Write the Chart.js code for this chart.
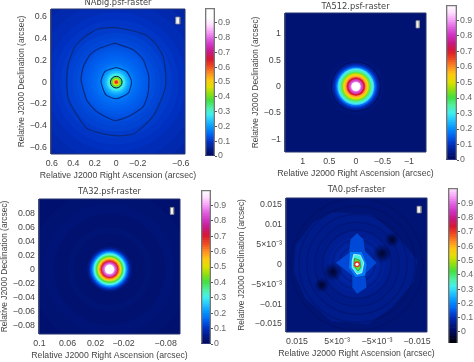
<!DOCTYPE html>
<html><head><meta charset="utf-8">
<style>
html,body{margin:0;padding:0;background:#fff;width:474px;height:362px;overflow:hidden;position:relative}
canvas{position:absolute;filter:blur(.4px)}
</style>
<script src="https://cdn.jsdelivr.net/npm/chart.js@4"></script>
</head><body>
<script>
const cmapPos=[-0.08,0,0.05,0.1,0.15,0.2,0.25,0.3,0.35,0.4,0.45,0.5,0.55,0.6,0.65,0.7,0.75,0.8,0.85,0.9,0.95,1];
const cmapHex=['#000000','#000a5c','#001a88','#0030c0','#0060f0','#0090ff','#20c0ff','#40f0f0','#50f0a0','#40e040','#90e010','#e0e000','#ffc810','#ff8c20','#f04a20','#d81830','#c81880','#d030c0','#e060e0','#f8a0f8','#ffe0ff','#ffffff'];

const titles=['NAbig.psf-raster','TA512.psf-raster','TA32.psf-raster','TA0.psf-raster'];
const xAxisLabel='Relative J2000 Right Ascension (arcsec)';
const yAxisLabel='Relative J2000 Declination (arcsec)';
const cbarTicks=[0,0.1,0.2,0.3,0.4,0.5,0.6,0.7,0.8,0.9];

const nabigXTicks=[0.6,0.4,0.2,0,-0.2,-0.6];
const nabigXLabels=['0.6','0.4','0.2','0','−0.2','−0.6'];
const nabigYTicks=[0.6,0.4,0.2,0,-0.2,-0.4,-0.6];
const nabigYLabels=['0.6','0.4','0.2','0','−0.2','−0.4','−0.6'];
const ta512XTicks=[1,0.5,0,-0.5,-1];
const ta512XLabels=['1','0.5','0','−0.5','−1'];
const ta512YTicks=[1,0.5,0,-0.5,-1];
const ta512YLabels=['1','0.5','0','−0.5','−1'];
const ta32XTicks=[0.1,0.06,0.02,-0.02,-0.08];
const ta32XLabels=['0.1','0.06','0.02','−0.02','−0.08'];
const ta32YTicks=[0.08,0.06,0.04,0.02,0,-0.02,-0.04,-0.06,-0.08];
const ta32YLabels=['0.08','0.06','0.04','0.02','0','−0.02','−0.04','−0.06','−0.08'];
const ta0XTicks=[0.015,0.005,-0.005,-0.015];
const ta0XLabels=['0.015','5×10⁻³','−5×10⁻³','−0.015'];
const ta0YTicks=[0.015,0.01,0.005,0,-0.005,-0.01,-0.015];
const ta0YLabels=['0.015','0.01','5×10⁻³','0','−5×10⁻³','−0.01','−0.015'];

const nabigRingR=[3,0.85,0.75,0.65,0.58,0.52,0.46,0.41,0.37,0.33,0.3,0.27,0.24,0.215,0.19,0.17,0.15,0.135,0.12,0.105,0.09,0.08,0.07,0.062,0.055,0.048,0.04,0.03,0.02,0.012];
const nabigRingV=[0.07,0.078,0.085,0.092,0.098,0.104,0.11,0.115,0.12,0.127,0.133,0.138,0.143,0.148,0.154,0.162,0.175,0.19,0.205,0.225,0.25,0.27,0.29,0.31,0.33,0.36,0.4,0.48,0.58,0.64];
const nabigOuterX=[0.012,-0.142,-0.281,-0.373,-0.435,-0.457,-0.457,-0.404,-0.327,-0.173,-0.034,0.12,0.275,0.367,0.444,0.46,0.444,0.383,0.29,0.167];
const nabigOuterY=[0.503,0.475,0.426,0.344,0.236,0.098,-0.04,-0.193,-0.331,-0.469,-0.494,-0.475,-0.423,-0.301,-0.163,0.021,0.175,0.328,0.42,0.488];
const nabigMiddleX=[0.012,-0.157,-0.25,-0.302,-0.296,-0.25,-0.111,0.012,0.182,0.275,0.327,0.306,0.244,0.151];
const nabigMiddleY=[0.359,0.298,0.206,0.052,-0.101,-0.224,-0.316,-0.353,-0.27,-0.163,0.021,0.144,0.252,0.313];
const nabigInnerX=[0,-0.096,-0.142,-0.111,0,0.096,0.142,0.105];
const nabigInnerY=[0.135,0.098,0.006,-0.101,-0.153,-0.117,0.006,0.098];
const nabigContourR=[0.054];
const nabigBeamX=[-0.553,-0.59];
const nabigBeamY=[0.598,0.534];

const ta512RingR=[3,0.55,0.5,0.46,0.43,0.4,0.375,0.35,0.33,0.31,0.28,0.26,0.24,0.22,0.2,0.18,0.165,0.145,0.13,0.115,0.1,0.085];
const ta512RingV=[0.025,0.03,0.04,0.055,0.08,0.12,0.17,0.24,0.3,0.34,0.4,0.45,0.5,0.55,0.6,0.66,0.7,0.75,0.8,0.84,0.88,1];
const ta512DarkR=[0.465];
const ta512LightR=[0.335,0.27,0.19,0.13];
const ta512BeamX=[-1.132,-1.194];
const ta512BeamY=[1.251,1.112];

const ta32RingR=[0.3,0.114,0.094,0.079,0.06,0.051,0.037,0.032,0.0296,0.028,0.0262,0.0245,0.0228,0.021,0.0192,0.0175,0.016,0.0147,0.0132,0.012,0.0108,0.0098,0.0088,0.0068];
const ta32RingV=[0.02,0.025,0.032,0.023,0.03,0.022,0.022,0.05,0.08,0.12,0.17,0.23,0.3,0.35,0.41,0.47,0.54,0.6,0.66,0.7,0.77,0.82,0.87,1];
const ta32LightR=[0.0215,0.0165,0.0105];
const ta32BeamX=[-0.0866,-0.0914];
const ta32BeamY=[0.0894,0.0794];

const ta0RingR=[0.05,0.0115,0.01,0.0085,0.007,0.0055,0.004];
const ta0RingV=[0.03,0.036,0.05,0.058,0.066,0.074,0.08];
const ta0HaloX=[0.0064,-0.0036,-0.0102,-0.0152,-0.0144,-0.0086,-0.0028,0.0064,0.013,0.0159,0.0155,0.011];
const ta0HaloY=[0.0132,0.0127,0.0072,0.001,-0.0044,-0.0111,-0.0152,-0.0144,-0.0086,-0.0019,0.0047,0.0106];
const ta0PlumeX=[0,-0.0017,-0.0021,-0.005,-0.0021,-0.0025,0,0.00125,0.00125,0.0054,0.0021,0.0017];
const ta0PlumeY=[0.0079,0.00625,0.0033,0.0004,-0.0025,-0.0058,-0.0075,-0.0058,-0.0029,0.0004,0.0029,0.00625];
const ta0BandX=[0.0018,-0.0012,-0.0025,-0.0021,0.0004,0.0021];
const ta0BandY=[0.0032,0.0032,0,-0.0029,-0.0033,-0.0008];
const ta0CyanX=[0.0008,-0.0008,-0.0017,-0.0012,0,0.0012,0.0012];
const ta0CyanY=[0.0025,0.0023,0.0004,-0.0021,-0.0025,-0.0008,0.0008];
const ta0GreenX=[0.0006,-0.0007,-0.001,-0.0003,0.0008];
const ta0GreenY=[0.0015,0.001,-0.0007,-0.0017,-0.0004];
const ta0CoreR=[0.00075,0.0004];
const ta0CoreV=[0.68,1];
const ta0DarkSpotX=[0.006,-0.00625,0.0017,-0.0022,0.0088,-0.0088];
const ta0DarkSpotY=[-0.0019,0.0027,0.0012,-0.0006,-0.0052,0.0062];
const ta0DarkSpotPx=[9,9,3.5,3.5,7,7];
const ta0ArcR=[0.0045,0.0062,0.0085,0.0105,0.0125,0.0145,0.0165];
const ta0BeamX=[-0.015,-0.016];
const ta0BeamY=[0.01458,0.0129];

function hexRgb(h){return [1,3,5].map(i=>parseInt(h.substr(i,2),16));}
function colorAt(v,gain){
  const t=Math.min(1,v<0?v:v/gain);
  let i=0;while(i<cmapPos.length-2&&t>cmapPos[i+1])i++;
  const f=Math.max(0,Math.min(1,(t-cmapPos[i])/(cmapPos[i+1]-cmapPos[i])));
  const a=hexRgb(cmapHex[i]),b=hexRgb(cmapHex[i+1]);
  return 'rgb('+a.map((c,k)=>Math.round(c+(b[k]-c)*f)).join(',')+')';
}
function pts(xs,ys,close){const p=xs.map((x,i)=>({x,y:ys[i]}));if(close)p.push(p[0]);return p;}
function pxRadius(c){const s=c.chart.scales.x;return Math.abs(s.getPixelForValue(c.raw.r)-s.getPixelForValue(0));}
function discs(radii,values,gain,cx,cy){return {
  data:radii.map((r,i)=>({x:cx||0,y:cy||0,r,v:values[i]})),showLine:false,borderWidth:0,
  pointBorderWidth:0,pointRadius:pxRadius,
  pointBackgroundColor:c=>colorAt(c.raw.v,gain)};}
function circles(radii,color,width,cx,cy){return {
  data:radii.map(r=>({x:cx||0,y:cy||0,r})),showLine:false,borderWidth:0,
  pointBorderWidth:width,pointBorderColor:color,pointBackgroundColor:'rgba(0,0,0,0)',pointRadius:pxRadius};}
function outline(xs,ys,color,width){return {data:pts(xs,ys,true),showLine:true,borderColor:color,borderWidth:width,pointRadius:0,tension:0.2,fill:false};}
function polygon(xs,ys,fill,line,width){return {data:pts(xs,ys,true),showLine:true,backgroundColor:fill,borderColor:line||fill,borderWidth:width||0,pointRadius:0,tension:0,fill:'shape'};}
function beam(xs,ys){return polygon([xs[0],xs[1],xs[1],xs[0]],[ys[0],ys[0],ys[1],ys[1]],'#f4f4f4','#8a8a8a',0.8);}
function softSpots(scale,alpha){return {data:pts(ta0DarkSpotX,ta0DarkSpotY),showLine:false,pointRadius:c=>ta0DarkSpotPx[c.dataIndex]*scale,pointBackgroundColor:'rgba(0,0,25,'+alpha+')',pointBorderWidth:0};}

const FONT='"Liberation Sans",Arial,sans-serif';
const WIDE='"DejaVu Sans",sans-serif';
const TEXT='#444';
function place(cv,l,t,w,h){cv.width=w;cv.height=h;cv.style.left=l+'px';cv.style.top=t+'px';cv.style.width=w+'px';cv.style.height=h+'px';document.body.appendChild(cv);}

function plot(o){
  const cv=document.createElement('canvas');
  const L=Math.round(o.yTitleX-5),T=Math.round(o.titleY-5.1),B=Math.round(o.xTitleY+5.1),R=Math.round(o.plot[2]+16);
  place(cv,L,T,R-L,B-T);
  const [pl,pt,pr,pb]=o.plot;
  const noPad=s=>{s.paddingLeft=s.paddingRight=s.paddingTop=s.paddingBottom=0;};
  const axis=(vals,labs,min,max,rev,pad)=>({type:'linear',reverse:rev,min,max,
    afterBuildTicks:s=>{s.ticks=vals.map(value=>({value}));},
    ticks:{autoSkip:false,maxRotation:0,minRotation:0,color:TEXT,font:{family:FONT,size:8.8},padding:pad,
      callback:v=>{const i=vals.findIndex(q=>Math.abs(q-v)<1e-9);return i<0?'':labs[i];}},
    grid:{display:false,drawTicks:false},border:{display:false}});
  const x=axis(o.xTicks,o.xLabels,o.xMin,o.xMax,true,o.xPad);
  x.afterFit=s=>{s.height=B-pb;noPad(s);};
  const y=axis(o.yTicks,o.yLabels,o.yMin,o.yMax,false,4);
  y.title={display:true,text:yAxisLabel,color:TEXT,font:{family:FONT,size:8.4},padding:0};
  y.afterFit=s=>{s.width=pl-L;noPad(s);};
  const frame={data:pts([o.xMin,o.xMin,o.xMax,o.xMax],[o.yMin,o.yMax,o.yMax,o.yMin],true),showLine:true,borderColor:'#27346e',borderWidth:1,pointRadius:0,fill:false,clip:false};
  const xTitle={id:'xTitle',afterDraw(c){const g=c.ctx;g.save();g.fillStyle=TEXT;g.font='8.7px '+FONT;g.textAlign='center';g.textBaseline='middle';
    g.fillText(xAxisLabel,(c.chartArea.left+c.chartArea.right)/2,c.height-5);g.restore();}};
  new Chart(cv,{type:'scatter',plugins:[xTitle],data:{datasets:o.layers.concat([frame]).reverse()},options:{
    responsive:false,animation:false,events:[],
    layout:{padding:{left:0,top:0,bottom:0,right:R-pr}},
    plugins:{legend:{display:false},tooltip:{enabled:false},
      title:{display:true,text:o.title,fullSize:false,color:TEXT,font:{family:WIDE,size:8.3,weight:'normal'},padding:{top:0,bottom:pt-T-9.96}}},
    scales:{x,y}}});
}
function colorbar(o){
  const cv=document.createElement('canvas');
  const [bl,bt,br,bb]=o.bar;
  const L=Math.round(bl)-1,T=Math.round(bt)-6,B=Math.round(bb)+7,R=Math.round(br)+30;
  place(cv,L,T,R-L,B-T);
  const n=70,bands=[];
  for(let i=0;i<n;i++){const lo=o.min+(o.max-o.min)*i/n,hi=o.min+(o.max-o.min)*(i+1)/n;
    bands.push({data:[[lo,hi]],backgroundColor:colorAt((lo+hi)/2,o.gain),borderWidth:0,grouped:false,categoryPercentage:1,barPercentage:1,order:2});}
  bands.push({data:[[o.min,o.max]],backgroundColor:'rgba(0,0,0,0)',borderColor:'#777',borderWidth:1,grouped:false,categoryPercentage:1,barPercentage:1,order:1});
  new Chart(cv,{type:'bar',data:{labels:[''],datasets:bands},options:{
    responsive:false,animation:false,events:[],
    layout:{padding:{left:bl-L,top:bt-T,bottom:B-bb,right:0}},
    plugins:{legend:{display:false},tooltip:{enabled:false}},
    scales:{x:{display:false},
      y:{type:'linear',position:'right',min:o.min,max:o.max,
        afterBuildTicks:s=>{s.ticks=cbarTicks.map(value=>({value}));},
        afterFit:s=>{s.width=R-br;s.paddingTop=s.paddingBottom=0;},
        ticks:{autoSkip:false,color:'#666',font:{family:FONT,size:8.8},padding:1,callback:v=>String(Math.round(v*10)/10)},
        grid:{drawOnChartArea:false,drawTicks:true,tickLength:2,color:'#555'},border:{display:false}}}}});
}

plot({title:titles[0],plot:[51,9,185,154],yTitleX:22,titleY:3.5,xTitleY:175.5,xPad:4,
  xMin:-0.639,xMax:0.607,yMin:-0.66,yMax:0.672,
  xTicks:nabigXTicks,xLabels:nabigXLabels,yTicks:nabigYTicks,yLabels:nabigYLabels,
  layers:[discs(nabigRingR,nabigRingV,0.93),
    outline(nabigOuterX,nabigOuterY,'#0a2a80',1.2),
    outline(nabigMiddleX,nabigMiddleY,'#0a2a80',1.2),
    outline(nabigInnerX,nabigInnerY,'#0a2a80',1.1),
    circles(nabigContourR,'#04144a',1),
    beam(nabigBeamX,nabigBeamY)]});
colorbar({bar:[205,8,215,156],min:0,max:1,gain:0.93});

plot({title:titles[1],plot:[285,13,426,152],yTitleX:256,titleY:7.3,xTitleY:174,xPad:4,
  xMin:-1.32,xMax:1.334,yMin:-1.243,yMax:1.397,
  xTicks:ta512XTicks,xLabels:ta512XLabels,yTicks:ta512YTicks,yLabels:ta512YLabels,
  layers:[discs(ta512RingR,ta512RingV,1),
    circles(ta512DarkR,'rgba(0,10,70,.8)',0.9),
    circles(ta512LightR,'rgba(255,255,255,.3)',0.6),
    beam(ta512BeamX,ta512BeamY)]});
colorbar({bar:[446,5,457,160],min:0,max:1,gain:1});

plot({title:titles[2],plot:[39,199,180,334],yTitleX:5,titleY:191.7,xTitleY:356,xPad:4,
  xMin:-0.1004,xMax:0.1006,yMin:-0.0914,yMax:0.1014,
  xTicks:ta32XTicks,xLabels:ta32XLabels,yTicks:ta32YTicks,yLabels:ta32YLabels,
  layers:[discs(ta32RingR,ta32RingV,1,0,0.001),
    circles(ta32LightR,'rgba(255,255,255,.25)',0.6,0,0.001),
    beam(ta32BeamX,ta32BeamY)]});
colorbar({bar:[201,190,211,344],min:0,max:1,gain:1});

plot({title:titles[3],plot:[286,198,427,332],yTitleX:242,titleY:190,xTitleY:354.3,xPad:4,
  xMin:-0.0175,xMax:0.01775,yMin:-0.017,yMax:0.01665,
  xTicks:ta0XTicks,xLabels:ta0XLabels,yTicks:ta0YTicks,yLabels:ta0YLabels,
  layers:[discs(ta0RingR.slice(0,2),ta0RingV.slice(0,2),1),
    polygon(ta0HaloX,ta0HaloY,colorAt(0.052,1),'rgba(5,20,90,.6)',0.6),
    discs(ta0RingR.slice(2),ta0RingV.slice(2),1),
    circles(ta0ArcR,'rgba(0,8,60,.2)',1.6),
    softSpots(1,0.12),softSpots(0.8,0.16),softSpots(0.6,0.22),softSpots(0.4,0.3),softSpots(0.2,0.35),
    polygon(ta0PlumeX,ta0PlumeY,colorAt(0.125,1),'rgba(0,20,90,.7)',0.6),
    polygon(ta0BandX,ta0BandY,colorAt(0.18,1),'rgba(0,20,90,.5)',0.5),
    polygon(ta0CyanX,ta0CyanY,colorAt(0.31,1),'#e8ffff',0.7),
    polygon(ta0GreenX,ta0GreenY,colorAt(0.42,1),'#2a6a30',0.6),
    discs(ta0CoreR,ta0CoreV,1),
    beam(ta0BeamX,ta0BeamY)]});
colorbar({bar:[448,188,458,343],min:-0.077,max:1.007,gain:1.05});
</script>
</body></html>
